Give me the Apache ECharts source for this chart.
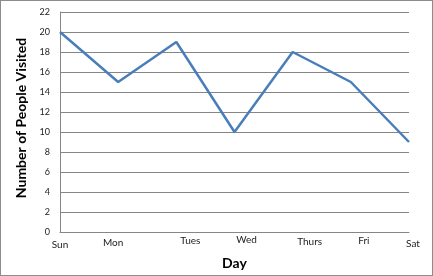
<!DOCTYPE html>
<html><head><meta charset="utf-8">
<script src="https://cdn.jsdelivr.net/npm/echarts@6/dist/echarts.min.js"></script>
<style>
html,body{margin:0;padding:0;background:#fff;}
#c{width:431px;height:274px;border:1px solid #8c8c8c;}
</style></head>
<body><div id="c"></div>
<script>
const days = ['Sun','Mon','Tues','Wed','Thurs','Fri','Sat'];
const visitors = [20, 15, 19, 10, 18, 15, 9];
const yTicks = {min: 0, max: 22, interval: 2};
const labelShift = [[0,6],[-5,4],[14,2],[12,1],[17,3],[13,2],[4,5]];

const rich = {};
labelShift.forEach((s,i)=>{
  rich['l'+i] = {
    fontSize: 10, fontFamily: 'Lato, "Open Sans", sans-serif', color: '#222',
    padding: [s[1], s[0] > 0 ? 0 : -2*s[0], 0, s[0] > 0 ? 2*s[0] : 0]
  };
});

const chart = echarts.init(document.getElementById('c'), null, {renderer:'canvas'});
chart.setOption({
  animation: false,
  grid: {left: 59, right: 23, top: 11, bottom: 38},
  xAxis: {
    type: 'category', data: days, boundaryGap: false,
    axisLine: {lineStyle: {color: '#868686', width: 1}},
    axisTick: {show: false},
    axisLabel: {
      margin: 2, interval: 0,
      formatter: (v, i) => '{l' + i + '|' + v + '}',
      rich: rich
    },
    name: 'Day', nameLocation: 'middle', nameGap: 24,
    nameTextStyle: {fontSize: 14, fontWeight: 'bold', color: '#000', fontFamily: 'Lato, "Open Sans", sans-serif'}
  },
  yAxis: {
    type: 'value', min: yTicks.min, max: yTicks.max, interval: yTicks.interval,
    axisLine: {show: true, lineStyle: {color: '#868686', width: 1}},
    axisTick: {show: false},
    splitLine: {lineStyle: {color: '#868686', width: 1}},
    axisLabel: {fontSize: 9, color: '#222', margin: 10, fontFamily: 'Lato, "Open Sans", sans-serif'},
    name: 'Number of People Visited', nameLocation: 'middle', nameGap: 24,
    nameTextStyle: {fontSize: 14, fontWeight: 'bold', color: '#000', fontFamily: 'Lato, "Open Sans", sans-serif', padding: [0, 0, 0, 8]}
  },
  series: [{
    type: 'line', data: visitors, symbol: 'none',
    lineStyle: {color: '#4A7EBB', width: 2.5}
  }]
});
</script></body></html>
